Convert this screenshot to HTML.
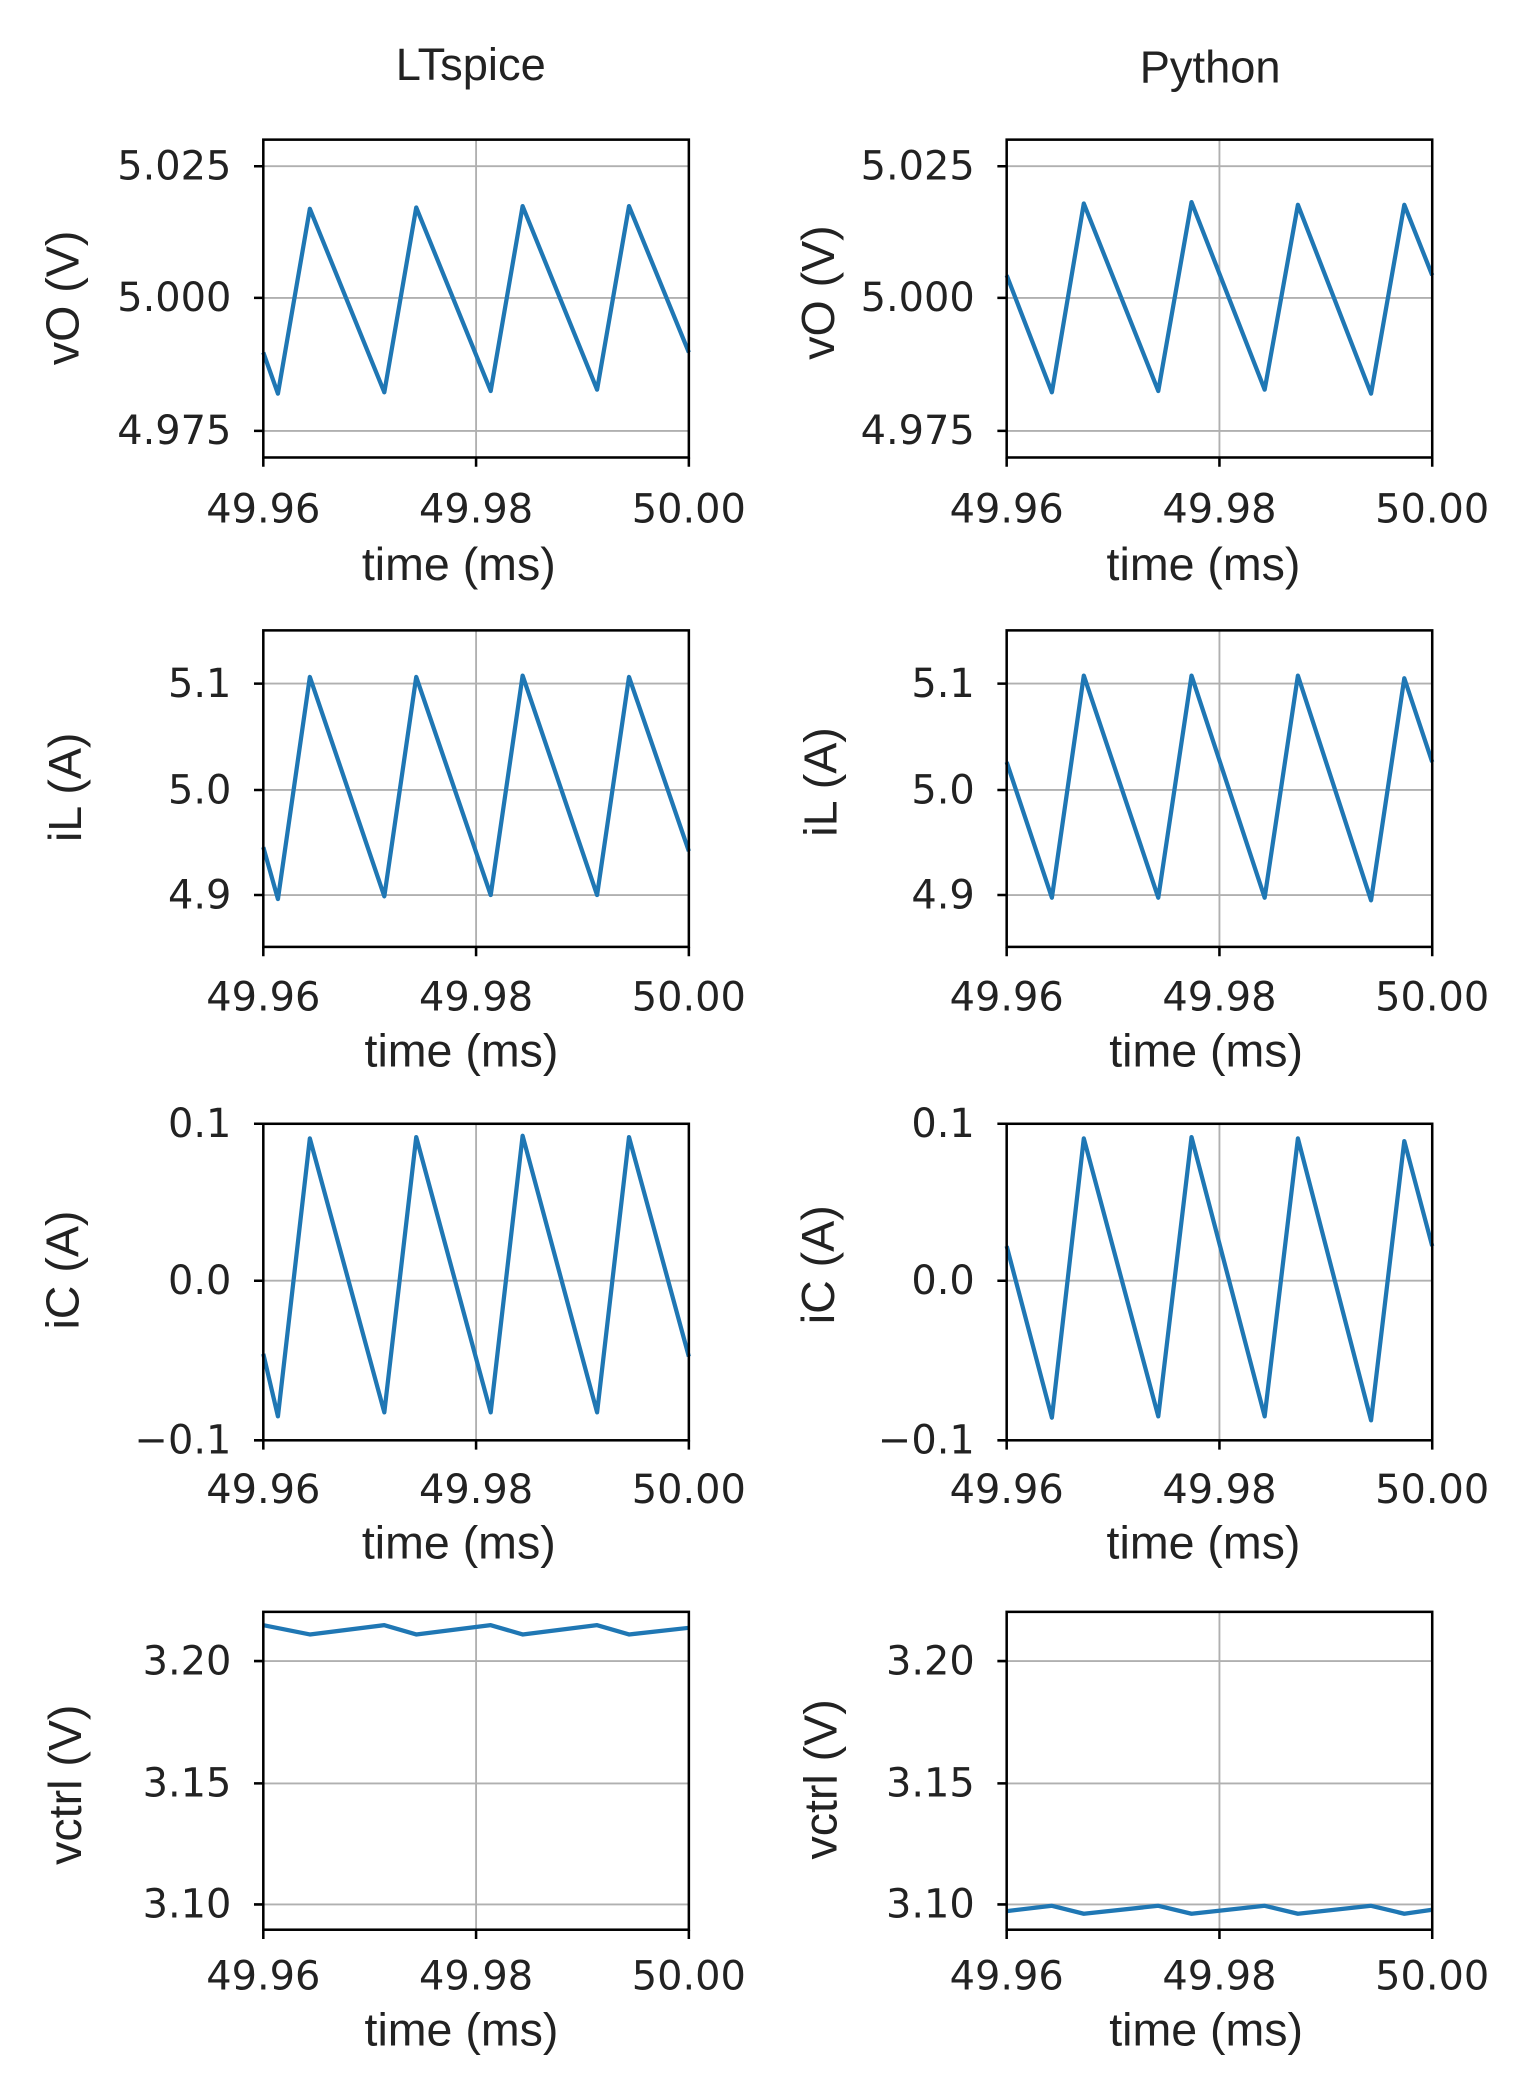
<!DOCTYPE html>
<html><head><meta charset="utf-8"><style>html,body{margin:0;padding:0;background:#fff}svg{display:block}</style></head>
<body>
<svg width="1516" height="2076" viewBox="0 0 1140 1561" preserveAspectRatio="none" xmlns="http://www.w3.org/2000/svg">
<g font-family="DejaVu Sans, sans-serif" fill="#222">
<text x="354" y="60" font-family="Liberation Sans, sans-serif" font-size="34" text-anchor="middle">LTspice</text>
<text x="910" y="62" font-family="Liberation Sans, sans-serif" font-size="34" text-anchor="middle">Python</text>
</g>
<g stroke="#b0b0b0" stroke-width="1.4" fill="none">
<line x1="358" y1="105" x2="358" y2="344"/><line x1="917" y1="105" x2="917" y2="344"/>
<line x1="358" y1="474" x2="358" y2="712"/><line x1="917" y1="474" x2="917" y2="712"/>
<line x1="358" y1="845" x2="358" y2="1083"/><line x1="917" y1="845" x2="917" y2="1083"/>
<line x1="358" y1="1212" x2="358" y2="1451"/><line x1="917" y1="1212" x2="917" y2="1451"/>
<path d="M198 125H518M198 224H518M198 324H518M757 125H1077M757 224H1077M757 324H1077"/>
<path d="M198 514H518M198 594H518M198 673H518M757 514H1077M757 594H1077M757 673H1077"/>
<path d="M198 963H518M757 963H1077"/>
<path d="M198 1249H518M198 1341H518M198 1432H518M757 1249H1077M757 1341H1077M757 1432H1077"/>
</g>
<g stroke="#1f77b4" stroke-width="3.2" fill="none" stroke-linejoin="round">
<polyline points="198,265 209,296 233,157 289,295 313,156 369,294 393,155 449,293 473,155 518,265"/>
<polyline points="757,207 791,295 815,153 871,294 896,152 951,293 976,154 1031,296 1056,154 1077,207"/>
<polyline points="198,637 209,676 233,509 289,674 313,509 369,673 393,508 449,673 473,509 518,640"/>
<polyline points="757,573 791,675 815,508 871,675 896,508 951,675 976,508 1031,677 1056,510 1077,573"/>
<polyline points="198,1018 209,1065 233,856 289,1062 313,855 369,1062 393,854 449,1062 473,855 518,1020"/>
<polyline points="757,937 791,1066 815,856 871,1065 896,855 951,1065 976,856 1031,1068 1056,858 1077,937"/>
<polyline points="198,1222 233,1229 289,1222 313,1229 369,1222 393,1229 449,1222 473,1229 518,1224"/>
<polyline points="757,1437 791,1433 815,1439 871,1433 896,1439 951,1433 976,1439 1031,1433 1056,1439 1077,1436"/>
</g>
<g stroke="#000" stroke-width="1.9" fill="none">
<rect x="198" y="105" width="320" height="239"/><rect x="757" y="105" width="320" height="239"/>
<rect x="198" y="474" width="320" height="238"/><rect x="757" y="474" width="320" height="238"/>
<rect x="198" y="845" width="320" height="238"/><rect x="757" y="845" width="320" height="238"/>
<rect x="198" y="1212" width="320" height="239"/><rect x="757" y="1212" width="320" height="239"/>
<path d="M198 344v7M358 344v7M518 344v7M757 344v7M917 344v7M1077 344v7"/>
<path d="M198 712v7M358 712v7M518 712v7M757 712v7M917 712v7M1077 712v7"/>
<path d="M198 1083v7M358 1083v7M518 1083v7M757 1083v7M917 1083v7M1077 1083v7"/>
<path d="M198 1451v7M358 1451v7M518 1451v7M757 1451v7M917 1451v7M1077 1451v7"/>
<path d="M198 125h-7M198 224h-7M198 324h-7M757 125h-7M757 224h-7M757 324h-7"/>
<path d="M198 514h-7M198 594h-7M198 673h-7M757 514h-7M757 594h-7M757 673h-7"/>
<path d="M198 845h-7M198 963h-7M198 1083h-7M757 845h-7M757 963h-7M757 1083h-7"/>
<path d="M198 1249h-7M198 1341h-7M198 1432h-7M757 1249h-7M757 1341h-7M757 1432h-7"/>
</g>
<g font-family="DejaVu Sans, sans-serif" font-size="30" fill="#222">
<g text-anchor="end">
<text x="174" y="135">5.025</text><text x="174" y="234">5.000</text><text x="174" y="334">4.975</text>
<text x="733" y="135">5.025</text><text x="733" y="234">5.000</text><text x="733" y="334">4.975</text>
<text x="174" y="524">5.1</text><text x="174" y="604">5.0</text><text x="174" y="683">4.9</text>
<text x="733" y="524">5.1</text><text x="733" y="604">5.0</text><text x="733" y="683">4.9</text>
<text x="174" y="855">0.1</text><text x="174" y="973">0.0</text><text x="174" y="1093">−0.1</text>
<text x="733" y="855">0.1</text><text x="733" y="973">0.0</text><text x="733" y="1093">−0.1</text>
<text x="174" y="1259">3.20</text><text x="174" y="1351">3.15</text><text x="174" y="1442">3.10</text>
<text x="733" y="1259">3.20</text><text x="733" y="1351">3.15</text><text x="733" y="1442">3.10</text>
</g>
<g text-anchor="middle">
<text x="198" y="393">49.96</text><text x="358" y="393">49.98</text><text x="518" y="393">50.00</text>
<text x="757" y="393">49.96</text><text x="917" y="393">49.98</text><text x="1077" y="393">50.00</text>
<text x="198" y="760">49.96</text><text x="358" y="760">49.98</text><text x="518" y="760">50.00</text>
<text x="757" y="760">49.96</text><text x="917" y="760">49.98</text><text x="1077" y="760">50.00</text>
<text x="198" y="1130">49.96</text><text x="358" y="1130">49.98</text><text x="518" y="1130">50.00</text>
<text x="757" y="1130">49.96</text><text x="917" y="1130">49.98</text><text x="1077" y="1130">50.00</text>
<text x="198" y="1496">49.96</text><text x="358" y="1496">49.98</text><text x="518" y="1496">50.00</text>
<text x="757" y="1496">49.96</text><text x="917" y="1496">49.98</text><text x="1077" y="1496">50.00</text>
</g>
</g>
<g font-family="Liberation Sans, sans-serif" font-size="35" fill="#222" text-anchor="middle">
<text x="345" y="436">time (ms)</text><text x="905" y="436">time (ms)</text>
<text x="347" y="802">time (ms)</text><text x="907" y="802">time (ms)</text>
<text x="345" y="1172">time (ms)</text><text x="905" y="1172">time (ms)</text>
<text x="347" y="1538">time (ms)</text><text x="907" y="1538">time (ms)</text>
<text transform="translate(59,224) rotate(-90)">vO (V)</text>
<text transform="translate(627,220) rotate(-90)">vO (V)</text>
<text transform="translate(61,592) rotate(-90)">iL (A)</text>
<text transform="translate(629,588) rotate(-90)">iL (A)</text>
<text transform="translate(59,955) rotate(-90)">iC (A)</text>
<text transform="translate(627,951) rotate(-90)">iC (A)</text>
<text transform="translate(61,1342) rotate(-90)">vctrl (V)</text>
<text transform="translate(629,1338) rotate(-90)">vctrl (V)</text>
</g>
</svg>
</body></html>
